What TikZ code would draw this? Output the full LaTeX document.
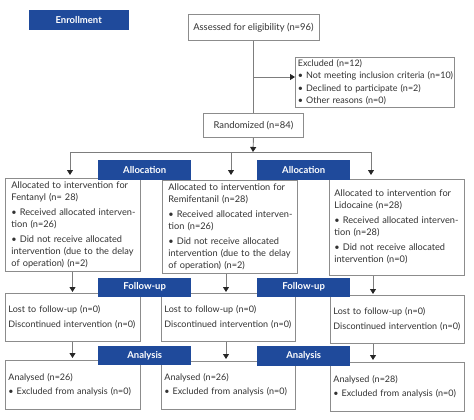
\documentclass[tikz,border=0pt]{standalone}
\usepackage{fontspec}
\setmainfont{Lato}
\usetikzlibrary{arrows.meta}
\definecolor{hdrblue}{RGB}{31,74,155}
\definecolor{linegray}{RGB}{125,125,125}
\definecolor{boxgray}{RGB}{140,140,140}
\definecolor{txtcol}{RGB}{50,50,50}
\newcommand{\mylines}[1]{\begin{tabular}{@{}l@{}}#1\end{tabular}}
\begin{document}
\begin{tikzpicture}[x=1pt,y=-1pt,
  box/.style={draw=boxgray, line width=0.9pt, fill=white, anchor=north west, align=left,
    inner ysep=0pt, inner xsep=3pt, text=txtcol, font=\fontsize{9.2}{12}\selectfont},
  sbox/.style={box, font=\fontsize{9}{12}\selectfont},
  cbox/.style={box, align=center, inner xsep=0pt, font=\fontsize{9.4}{12}\selectfont},
  hdr/.style={fill=hdrblue, text=white, anchor=north west, inner sep=0pt,
    font=\fontsize{9.5}{10}\selectfont\bfseries},
  conn/.style={draw=linegray, line width=0.9pt},
  arr/.style={conn, -{Triangle[length=5pt,width=6pt,color=black!85]}}
]
\useasboundingbox (0,0) rectangle (474,420);

% enrollment
\node[cbox, minimum width=131pt, minimum height=26pt] (assess) at (187.5,14) {Assessed for eligibility (n=96)};
\node[box, inner xsep=2.5pt, text width=154pt, minimum height=50pt, font=\fontsize{9}{12.5}\selectfont] (excl) at (295,57)
  {\mylines{Excluded (n=12)\\ • Not meeting inclusion criteria (n=10)\\ • Declined to participate (n=2)\\ • Other reasons (n=0)}};
\node[cbox, minimum width=100pt, minimum height=24pt] (rand) at (203,113) {Randomized (n=84)};

% allocation boxes
\node[box, inner xsep=6pt, text width=123pt, minimum height=93pt] (A1) at (5,178)
  {\mylines{Allocated to intervention for\\ Fentanyl (n= 28)\\[3pt] • Received allocated interven-\\ tion (n=26)\\[3pt] • Did not receive allocated\\ intervention (due to the delay\\ of operation) (n=2)}};
\node[box, inner xsep=6pt, text width=123pt, minimum height=93pt] (A2) at (162,180)
  {\mylines{Allocated to intervention for\\ Remifentanil (n=28)\\[3pt] • Received allocated interven-\\ tion (n=26)\\[3pt] • Did not receive allocated\\ intervention (due to the delay\\ of operation) (n=2)}};
\node[box, inner xsep=5pt, text width=124.5pt, minimum height=96pt] (A3) at (329,179)
  {\mylines{Allocated to intervention for\\ Lidocaine (n=28)\\[3pt] • Received allocated interven-\\ tion (n=28)\\[3pt] • Did not receive allocated\\ intervention (n=0)}};

% follow-up boxes
\node[sbox, text width=129pt, minimum height=48pt] (F1) at (5,293)
  {\mylines{Lost to follow-up (n=0)\\[3pt] Discontinued intervention (n=0)}};
\node[sbox, text width=128pt, minimum height=48pt] (F2) at (161,293)
  {\mylines{Lost to follow-up (n=0)\\[3pt] Discontinued intervention (n=0)}};
\node[sbox, text width=128pt, minimum height=48pt] (F3) at (330,295)
  {\mylines{Lost to follow-up (n=0)\\[3pt] Discontinued intervention (n=0)}};

% analysis boxes
\node[sbox, text width=129pt, minimum height=49pt] (N1) at (5,360)
  {\mylines{Analysed (n=26)\\[2pt] • Excluded from analysis (n=0)}};
\node[sbox, text width=128pt, minimum height=48pt] (N2) at (161,361)
  {\mylines{Analysed (n=26)\\[2pt] • Excluded from analysis (n=0)}};
\node[sbox, text width=128pt, minimum height=49pt] (N3) at (330,362)
  {\mylines{Analysed (n=28)\\[2pt] • Excluded from analysis (n=0)}};

% headers
\node[hdr, minimum width=100pt, minimum height=20pt] (enroll) at (28.5,9.5) {Enrollment};
\node[hdr, minimum width=93pt, minimum height=19.5pt] (alloc1) at (98,160) {Allocation};
\node[hdr, minimum width=93pt, minimum height=19.5pt] (alloc2) at (257,160) {Allocation};
\node[hdr, minimum width=93pt, minimum height=19pt] (follow1) at (98,277.5) {Follow-up};
\node[hdr, minimum width=93pt, minimum height=19pt] (follow2) at (257,277.5) {Follow-up};
\node[hdr, minimum width=93pt, minimum height=19.5pt] (anal1) at (98,345.5) {Analysis};
\node[hdr, minimum width=93pt, minimum height=19.5pt] (anal2) at (257,346) {Analysis};

% connectors
\coordinate (jx) at (253,77);
\coordinate (hc) at (253,152);
\coordinate (hl) at (70,152);
\coordinate (hm) at (231,152);
\coordinate (hr) at (371,152);
\coordinate (cl) at (72.5,0);
\coordinate (cm) at (226,0);
\coordinate (cr) at (373,0);

\draw[conn] (assess.south) -- (rand.north);
\draw[arr] (jx) -- (jx -| excl.west);
\draw[arr] (rand.south) -- (hc);
\draw[conn] (hl) -- (hr);
\draw[arr, shorten >=3pt] (hl) -- (hl |- A1.north);
\draw[arr, shorten >=5pt] (hm) -- (hm |- A2.north);
\draw[arr, shorten >=4pt] (hr) -- (hr |- A3.north);

\draw[arr, shorten >=1pt] (A1.south -| cl) -- (F1.north -| cl);
\draw[arr, shorten >=1pt] (A2.south -| cm) -- (F2.north -| cm);
\draw[arr, shorten >=1pt] (A3.south -| cr) -- (F3.north -| cr);

\draw[arr, shorten >=2pt] (F1.south -| cl) -- (N1.north -| cl);
\draw[arr, shorten >=2pt] (F2.south -| cm) -- (N2.north -| cm);
\draw[arr, shorten >=2pt] (F3.south -| cr) -- (N3.north -| cr);
\end{tikzpicture}
\end{document}
